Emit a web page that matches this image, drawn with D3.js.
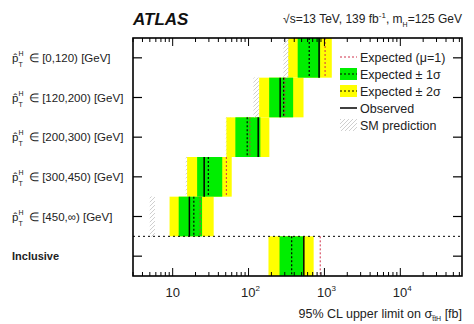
<!DOCTYPE html>
<html>
<head>
<meta charset="utf-8">
<script src="https://cdn.jsdelivr.net/npm/d3@7"></script>
<style>
  html, body { margin: 0; padding: 0; background: #fff; }
  svg { display: block; font-family: "Liberation Sans", Arial, sans-serif; }
</style>
</head>
<body>
<svg id="chart" width="474" height="324"></svg>
<script>
// ttH STXS upper limits at 95% CL, per Higgs pT bin and inclusive
const categories = ["[0,120)", "[120,200)", "[200,300)", "[300,450)", "[450,∞)", "Inclusive"];
const observed   = [850, 261, 134, 26, 16.6, 535];
const expected   = [630, 290, 96, 29.5, 19, 370];
const expMu1     = [1020, 300, 104, 51, 23, 880];
const minus2     = [333, 138, 51, 15.5, 9.1, 183];
const minus1     = [444, 187, 67, 21, 12, 256];
const plus1      = [877, 387, 143, 45, 24.4, 525];
const plus2      = [1250, 530, 188, 60, 34.7, 721];
const smPred     = [313, 126, 54, 16, 5.4, null];
const xTicks     = [10, 100, 1000, 10000];

const svg = d3.select("#chart");
const L = 133, R = 462, T = 38, B = 276;

const x = d3.scaleLog().domain([3, 65000]).range([L, R]);
const y = d3.scaleBand().domain(categories).range([T, B]).paddingInner(0).paddingOuter(0);
const bw = y.bandwidth();

// hatch pattern for the SM prediction band
const defs = svg.append("defs");
const pat = defs.append("pattern").attr("id", "hatch").attr("patternUnits", "userSpaceOnUse")
  .attr("width", 4).attr("height", 4);
pat.append("path").attr("d", "M0,4 L4,0 M-1,1 L1,-1 M3,5 L5,3")
  .attr("stroke", "#cfcfcf").attr("stroke-width", 1);

const rows = categories.map((c, i) => ({
  c, obs: observed[i], exp: expected[i], mu1: expMu1[i],
  m2: minus2[i], m1: minus1[i], p1: plus1[i], p2: plus2[i], sm: smPred[i]
}));

const plot = svg.append("g");

// SM prediction, drawn first so the bands sit on top
plot.selectAll(".sm").data(rows.filter(d => d.sm != null)).join("rect")
  .attr("x", d => x(d.sm) - 2.5).attr("width", 5)
  .attr("y", d => y(d.c)).attr("height", bw)
  .attr("fill", "url(#hatch)");

// +/- 2 sigma
plot.selectAll(".s2").data(rows).join("rect")
  .attr("x", d => x(d.m2)).attr("width", d => x(d.p2) - x(d.m2))
  .attr("y", d => y(d.c)).attr("height", bw)
  .attr("fill", "#ffff00");

// +/- 1 sigma
plot.selectAll(".s1").data(rows).join("rect")
  .attr("x", d => x(d.m1)).attr("width", d => x(d.p1) - x(d.m1))
  .attr("y", d => y(d.c)).attr("height", bw)
  .attr("fill", "#00ee00");

// SM prediction visible again where it falls outside the bands
plot.selectAll(".sm2").data(rows.filter(d => d.sm != null && d.sm < d.m2)).join("rect")
  .attr("x", d => x(d.sm) - 2.5).attr("width", 5)
  .attr("y", d => y(d.c)).attr("height", bw)
  .attr("fill", "url(#hatch)");

// expected (mu=1), red dotted
plot.selectAll(".mu1").data(rows).join("line")
  .attr("x1", d => x(d.mu1)).attr("x2", d => x(d.mu1))
  .attr("y1", d => y(d.c)).attr("y2", d => y(d.c) + bw)
  .attr("stroke", "#d0304a").attr("stroke-width", 1).attr("stroke-dasharray", "2,2");

// expected median, black dashed
plot.selectAll(".exp").data(rows).join("line")
  .attr("x1", d => x(d.exp)).attr("x2", d => x(d.exp))
  .attr("y1", d => y(d.c)).attr("y2", d => y(d.c) + bw)
  .attr("stroke", "#000").attr("stroke-width", 1.2).attr("stroke-dasharray", "2,2");

// observed, solid
plot.selectAll(".obs").data(rows).join("line")
  .attr("x1", d => x(d.obs)).attr("x2", d => x(d.obs))
  .attr("y1", d => y(d.c)).attr("y2", d => y(d.c) + bw)
  .attr("stroke", "#000").attr("stroke-width", 1.5);

// separator above inclusive
svg.append("line")
  .attr("x1", L).attr("x2", R)
  .attr("y1", y("Inclusive")).attr("y2", y("Inclusive"))
  .attr("stroke", "#000").attr("stroke-width", 1).attr("stroke-dasharray", "2,3");

// axis ticks (inward, both sides)
const ax = svg.append("g");
const minor = [];
for (let e = 0; e <= 4; e++) for (let k = 2; k <= 9; k++) {
  const v = k * Math.pow(10, e);
  if (v >= 3 && v <= 65000) minor.push(v);
}
[[B, -1], [T, 1]].forEach(([yy, dir]) => {
  ax.selectAll(null).data(minor).join("line")
    .attr("x1", d => x(d)).attr("x2", d => x(d))
    .attr("y1", yy).attr("y2", yy + dir * 4)
    .attr("stroke", "#000").attr("stroke-width", 1);
  ax.selectAll(null).data(xTicks).join("line")
    .attr("x1", d => x(d)).attr("x2", d => x(d))
    .attr("y1", yy).attr("y2", yy + dir * 8)
    .attr("stroke", "#000").attr("stroke-width", 1);
});
[[L, 1], [R, -1]].forEach(([xx, dir]) => {
  ax.selectAll(null).data(categories).join("line")
    .attr("x1", xx).attr("x2", xx + dir * 9)
    .attr("y1", d => y(d) + bw / 2).attr("y2", d => y(d) + bw / 2)
    .attr("stroke", "#000").attr("stroke-width", 1.2);
});

// frame
svg.append("rect").attr("x", L).attr("y", T).attr("width", R - L).attr("height", B - T)
  .attr("fill", "none").attr("stroke", "#000").attr("stroke-width", 1.6);

// x tick labels
const xl = svg.append("g").attr("font-size", 13).attr("fill", "#222");
xTicks.forEach(v => {
  const e = Math.round(Math.log10(v));
  const t = xl.append("text").attr("x", x(v) + (e > 1 ? 2 : 0)).attr("y", 297).attr("text-anchor", "middle");
  t.append("tspan").text("10");
  if (e > 1) t.append("tspan").attr("font-size", 8).attr("dy", -6).text(e);
});

// x axis title
const xt = svg.append("text").attr("x", R).attr("y", 318).attr("text-anchor", "end")
  .attr("font-size", 12.5).attr("fill", "#222");
xt.append("tspan").text("95% CL upper limit on σ");
xt.append("tspan").attr("font-size", 7).attr("dy", 3).text("t\u0305tH");
xt.append("tspan").attr("dy", -3).text(" [fb]");

// y labels
const yl = svg.append("g").attr("font-size", 11.5).attr("fill", "#222");
categories.forEach((c, i) => {
  const cy = y(c) + bw / 2 + 4;
  if (c === "Inclusive") {
    yl.append("text").attr("x", 12).attr("y", cy).attr("font-weight", "bold").attr("font-size", 11)
      .text("Inclusive");
    return;
  }
  const t = yl.append("text").attr("x", 12).attr("y", cy);
  t.append("tspan").text("p\u0302");
  t.append("tspan").attr("font-size", 7).attr("dy", -6).text("H");
  t.append("tspan").attr("font-size", 7).attr("dx", -5).attr("dy", 11).text("T");
  t.append("tspan").attr("dx", 3).attr("dy", -5).text(" ∈ " + c + " [GeV]");
});

// header
svg.append("text").attr("x", L).attr("y", 25).attr("font-size", 17)
  .attr("font-weight", "bold").attr("font-style", "italic").attr("fill", "#111").text("ATLAS");
const hd = svg.append("text").attr("x", R).attr("y", 23).attr("text-anchor", "end")
  .attr("font-size", 12).attr("fill", "#222");
hd.append("tspan").text("√s=13 TeV, 139 fb");
hd.append("tspan").attr("font-size", 8).attr("dy", -5).text("-1");
hd.append("tspan").attr("dy", 5).text(", m");
hd.append("tspan").attr("font-size", 7).attr("dy", 4).text("H");
hd.append("tspan").attr("dy", -4).text("=125 GeV");

// legend
const lg = svg.append("g").attr("font-size", 12.5).attr("fill", "#222");
const lx = 340, lw = 17, ly0 = 57, ldy = 17;
const items = [
  { t: "Expected (μ=1)", k: "mu1" },
  { t: "Expected ± 1σ", k: "s1" },
  { t: "Expected ± 2σ", k: "s2" },
  { t: "Observed", k: "obs" },
  { t: "SM prediction", k: "sm" }
];
items.forEach((it, i) => {
  const cy = ly0 + i * ldy;
  if (it.k === "mu1") {
    lg.append("line").attr("x1", lx).attr("x2", lx + lw).attr("y1", cy).attr("y2", cy)
      .attr("stroke", "#d0304a").attr("stroke-dasharray", "2,2");
  } else if (it.k === "s1" || it.k === "s2") {
    lg.append("rect").attr("x", lx).attr("y", cy - 6).attr("width", lw).attr("height", 12)
      .attr("fill", it.k === "s1" ? "#00ee00" : "#ffff00");
    lg.append("line").attr("x1", lx).attr("x2", lx + lw).attr("y1", cy).attr("y2", cy)
      .attr("stroke", "#000").attr("stroke-width", 1.2).attr("stroke-dasharray", "2,2");
  } else if (it.k === "obs") {
    lg.append("line").attr("x1", lx).attr("x2", lx + lw).attr("y1", cy).attr("y2", cy)
      .attr("stroke", "#000").attr("stroke-width", 1.5);
  } else {
    lg.append("rect").attr("x", lx).attr("y", cy - 6).attr("width", lw).attr("height", 12)
      .attr("fill", "url(#hatch)");
  }
  lg.append("text").attr("x", lx + lw + 3).attr("y", cy + 4.5).text(it.t);
});
</script>
</body>
</html>
